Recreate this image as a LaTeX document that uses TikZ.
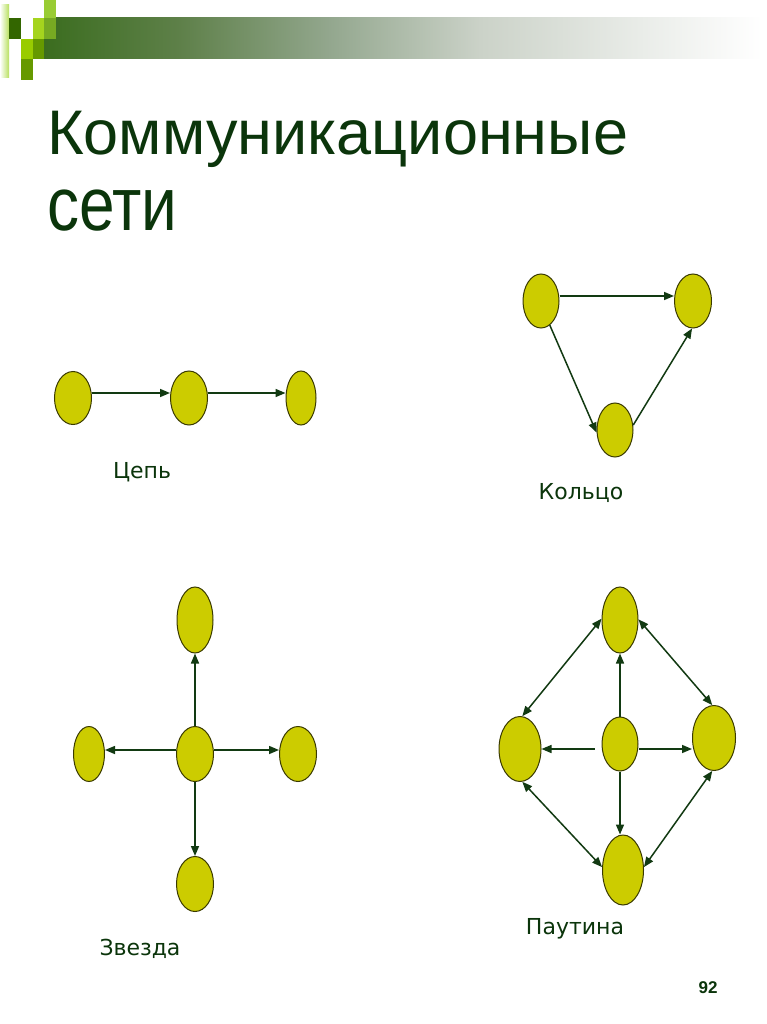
\documentclass[tikz,border=0pt]{standalone}
\usepackage{fontspec}
\usepackage{graphicx}
\setmainfont{Liberation Sans}
\newfontfamily\labfont{DejaVu Sans}
\usetikzlibrary{shapes.geometric,arrows.meta}
\definecolor{ttl}{HTML}{0B350B}
\definecolor{nodefill}{HTML}{CCCC00}
\definecolor{nodeline}{HTML}{3A3A00}
\definecolor{arrc}{HTML}{123A12}
\definecolor{sqA}{HTML}{336600}
\definecolor{sqB}{HTML}{99CC00}
\definecolor{sqC}{HTML}{669900}
\definecolor{sqD}{HTML}{A5D41E}
\definecolor{sqE}{HTML}{99CC33}
\definecolor{sqF}{HTML}{77AA22}
\definecolor{strip}{HTML}{B8E060}
\definecolor{barA}{HTML}{3B6D1F}
\definecolor{barB}{HTML}{5E8049}
\definecolor{barC}{HTML}{93A78E}
\definecolor{barD}{HTML}{CBD2C8}
\definecolor{barE}{HTML}{E9ECE8}
\tikzset{
  nd/.style={ellipse, draw=nodeline, fill=nodefill, line width=1pt, inner sep=0pt},
  tip/.tip={Triangle[length=10pt,width=8pt]},
  arr/.style={draw=arrc, line width=1.5pt, -tip},
  darr/.style={draw=arrc, line width=1.5pt, tip-tip},
  lab/.style={anchor=base, inner sep=0pt, text=ttl, font=\labfont\fontsize{22}{26}\selectfont},
}
\begin{document}
\begin{tikzpicture}[x=1pt,y=-1pt]
\useasboundingbox (0,0) rectangle (767,1024);
\fill[white] (0,0) rectangle (767,1024);
% header decoration
\shade[left color=white, right color=strip] (0,5) rectangle (9,78);
\shade[left color=barA, right color=barB] (44,18) rectangle (180,59);
\shade[left color=barB, right color=barC] (179.5,18) rectangle (330,59);
\shade[left color=barC, right color=barD] (329.5,18) rectangle (480,59);
\shade[left color=barD, right color=barE] (479.5,18) rectangle (640,59);
\shade[left color=barE, right color=white] (639.5,18) rectangle (762,59);
\fill[sqA] (9,18) rectangle (21,39);
\fill[sqB] (21,39) rectangle (33,59);
\fill[sqC] (21,59) rectangle (33,80);
\fill[sqD] (33,18) rectangle (44,39);
\fill[sqC] (33,39) rectangle (44,59);
\fill[sqE] (44,0) rectangle (56,18);
\fill[sqF] (44,18) rectangle (56,39);
% title
\node[anchor=base west, inner sep=0pt, text=ttl, font=\fontsize{63}{70}\selectfont] (t1) at (47,155) {Коммуникационные};
\node[anchor=base west, inner sep=0pt, text=ttl] (t2) at (47,230) {\scalebox{1}[1.18]{\fontsize{64}{70}\selectfont сети}};
% chain
\node[nd, minimum width=37pt, minimum height=53pt] (c1) at (73,398) {};
\node[nd, minimum width=37pt, minimum height=54pt] (c2) at (189,398) {};
\node[nd, minimum width=30pt, minimum height=54pt] (c3) at (301,398) {};
\draw[arr] ([yshift=5pt]c1.east) -- ([yshift=5pt]c2.west);
\draw[arr] ([yshift=5pt]c2.east) -- ([yshift=5pt]c3.west);
\node[lab] (lc) at (142,478) {Цепь};
% ring
\node[nd, minimum width=36pt, minimum height=54pt] (r1) at (541,301) {};
\node[nd, minimum width=37pt, minimum height=54pt] (r2) at (693,301) {};
\node[nd, minimum width=36pt, minimum height=54pt] (r3) at (615,430) {};
\draw[arr] ([yshift=5pt]r1.east) -- ([yshift=5pt]r2.west);
\draw[arr] (r1.-70) -- (r3.188);
\draw[arr] (r3.15) -- (r2.-92);
\node[lab] (lr) at (581,499) {Кольцо};
% star
\node[nd, minimum width=37pt, minimum height=55pt] (s0) at (195,754) {};
\node[nd, minimum width=36pt, minimum height=66pt] (sT) at (195,620) {};
\node[nd, minimum width=31pt, minimum height=55pt] (sL) at (89,754) {};
\node[nd, minimum width=37pt, minimum height=55pt] (sR) at (298,754) {};
\node[nd, minimum width=37pt, minimum height=55pt] (sB) at (195,884) {};
\draw[arr] (s0.north) -- (sT.south);
\draw[arr] ([yshift=4pt]s0.west) -- ([yshift=4pt]sL.east);
\draw[arr] ([yshift=4pt]s0.east) -- ([yshift=4pt]sR.west);
\draw[arr] (s0.south) -- (sB.north);
\node[lab] (ls) at (140,955) {Звезда};
% web
\node[nd, minimum width=36pt, minimum height=54pt] (w0) at (620,744) {};
\node[nd, minimum width=36pt, minimum height=66pt] (wT) at (620,620) {};
\node[nd, minimum width=42pt, minimum height=65pt] (wL) at (520,749) {};
\node[nd, minimum width=43pt, minimum height=65pt] (wR) at (714,738) {};
\node[nd, minimum width=41pt, minimum height=70pt] (wB) at (623,870) {};
\coordinate (wa) at ([shift={(-7pt,-5pt)}]w0.west);
\coordinate (wb) at ([yshift=-5pt]w0.east);
\draw[arr] (w0.north) -- (wT.south);
\draw[arr] (wa) -- (wa -| wL.east);
\draw[arr] (wb) -- (wb -| wR.west);
\draw[arr] (w0.south) -- (w0.south |- wB.north);
\draw[darr] (wT.176) -- (wL.86);
\draw[darr] (wT.2) -- (wR.93);
\draw[darr] (wL.-86) -- (wB.172);
\draw[darr] (wR.-93) -- (wB.8);
\node[lab] (lw) at (575,934) {Паутина};
% page number
\node[anchor=base, inner sep=0pt, text=ttl, font=\bfseries\fontsize{17}{20}\selectfont] (pn) at (708,993) {92};
\end{tikzpicture}
\end{document}
